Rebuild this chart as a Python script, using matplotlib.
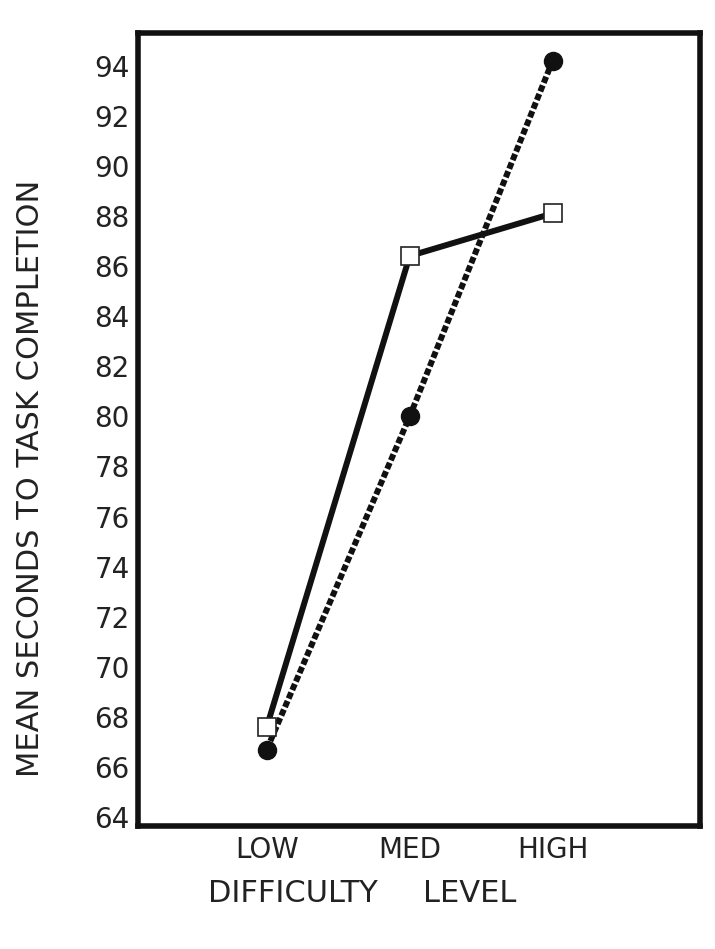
import matplotlib
matplotlib.use("Agg")
import matplotlib.pyplot as plt

plt.rcParams["font.family"] = ["DejaVu Sans"]

levels = ["LOW", "MED", "HIGH"]
x_pos = [1, 2, 3]
squares = [67.6, 86.4, 88.1]   # solid line, open squares
circles = [66.7, 80.0, 94.2]   # dashed line, filled circles
y_ticks = list(range(64, 95, 2))

fig = plt.figure(figsize=(7.15, 9.49), dpi=100)
ax = fig.add_axes([138 / 715, 1 - 826 / 949, (700 - 138) / 715, (826 - 33) / 949])

ax.plot(x_pos, circles, linestyle=(0, (1.1, 0.45)), color="#111111", linewidth=4.3,
        marker="o", markersize=13, markerfacecolor="#111111", markeredgecolor="#111111",
        zorder=3)
ax.plot(x_pos, squares, linestyle="-", color="#111111", linewidth=4.3,
        marker="s", markersize=13.5, markerfacecolor="white", markeredgecolor="#222222",
        markeredgewidth=1.2, zorder=4)

ax.set_xlim(0.1, 4.03)
ax.set_ylim(63.65, 95.3)
ax.set_yticks(y_ticks)
ax.set_yticklabels([str(t) for t in y_ticks], fontsize=20, color="#222222")
ax.set_xticks(x_pos)
ax.set_xticklabels(levels, fontsize=20, color="#222222")
ax.tick_params(axis="both", length=0)
ax.tick_params(axis="y", pad=6)
ax.tick_params(axis="x", pad=7)
for s in ax.spines.values():
    s.set_linewidth(4)
    s.set_color("#111111")

# x axis title drawn as two words, spaced as in the original
fig.text(293 / 715, 1 - 893 / 949, "DIFFICULTY", fontsize=22,
         ha="center", va="center", color="#222222")
fig.text(470 / 715, 1 - 893 / 949, "LEVEL", fontsize=22,
         ha="center", va="center", color="#222222")
fig.text(31 / 715, 1 - 478 / 949, "MEAN SECONDS TO TASK COMPLETION", fontsize=22,
         rotation=90, ha="center", va="center", color="#222222")

fig.savefig("out.png", dpi=100)
